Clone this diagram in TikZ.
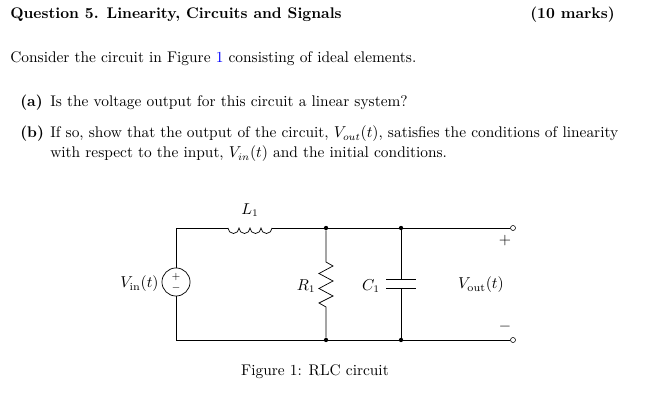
\documentclass[tikz,border=0pt]{standalone}
\usepackage{amsmath}
\begin{document}
\fontsize{10.7}{13}\selectfont
\begin{tikzpicture}[x=0.6944pt,y=-0.6944pt,
  txt/.style={anchor=base west,inner sep=0pt},
  wire/.style={line width=0.5pt},
  dotn/.style={circle,fill,inner sep=0pt,minimum size=3pt},
  term/.style={circle,draw,fill=white,inner sep=0pt,minimum size=3.5pt}]
\useasboundingbox (0,0) rectangle (649,402);
\node[txt] (title) at (10,19) {\textbf{Question 5. Linearity, Circuits and Signals}};
\node[anchor=base east,inner sep=0pt] (marks) at (615,19) {\textbf{(10 marks)}};
\node[txt] (intro) at (10,63) {Consider the circuit in Figure \textcolor{blue}{1} consisting of ideal elements.};
\node[txt] (la) at (20,107) {\textbf{(a)}};
\node[txt] (ta) at (50,107) {Is the voltage output for this circuit a linear system?};
\node[txt] (lb) at (20,138) {\textbf{(b)}};
\node[txt] (tb) at (50,138) {If so, show that the output of the circuit, $V_{out}(t)$, satisfies the conditions of linearity};
\node[txt] (tb2) at (50,158) {with respect to the input, $V_{in}(t)$ and the initial conditions.};
% circuit
\coordinate (tl) at (176,228); \coordinate (bl) at (176,340);
\node[circle,draw,wire,minimum size=19.5pt,inner sep=0pt] (src) at (176,282) {};
\node[font=\scriptsize,inner sep=0pt] (pl) at (176,277) {$+$};
\node[font=\scriptsize,inner sep=0pt] (mi) at (176,288) {$-$};
\coordinate (l0) at (228,228); \coordinate (l1) at (272,228);
\node[dotn] (n1) at (326,228) {}; \node[dotn] (n2) at (401,228) {};
\node[dotn] (n3) at (326,340) {}; \node[dotn] (n4) at (401,340) {};
\node[term] (o1) at (513,228) {}; \node[term] (o2) at (513,340) {};
\draw[wire] (src.north) -- (tl) -- (l0);
\draw[wire] (l0) \foreach \i in {0,...,3} { arc[start angle=180,end angle=0,radius=5.5] };
\draw[wire] (l1) -- (n1) -- (n2) -- (o1);
\draw[wire] (src.south) -- (bl) -- (n3) -- (n4) -- (o2);
\draw[wire] (n1) -- (326,262) -- (333,266) -- (319,273.5) -- (333,281) -- (319,288.5) -- (333,296) -- (319,303) -- (326,307) -- (n3);
\draw[wire] (n2) -- (401,279.5) (386,279.5) -- (416,279.5) (386,288.5) -- (416,288.5) (401,288.5) -- (n4);
\node (L) at (250,210) {$L_1$};
\node (R) at (306,286) {$R_1$};
\node (C) at (371,286) {$C_1$};
\node (Vo) at (481,285) {$V_{\text{out}}(t)$};
\node[anchor=east] (Vi) at (164,284) {$V_{\text{in}}(t)$};
\node (p) at (505,241) {$+$};
\node (m) at (505,327) {$-$};
\node (cap) at (315,372) {Figure 1: RLC circuit};
\end{tikzpicture}
\end{document}
